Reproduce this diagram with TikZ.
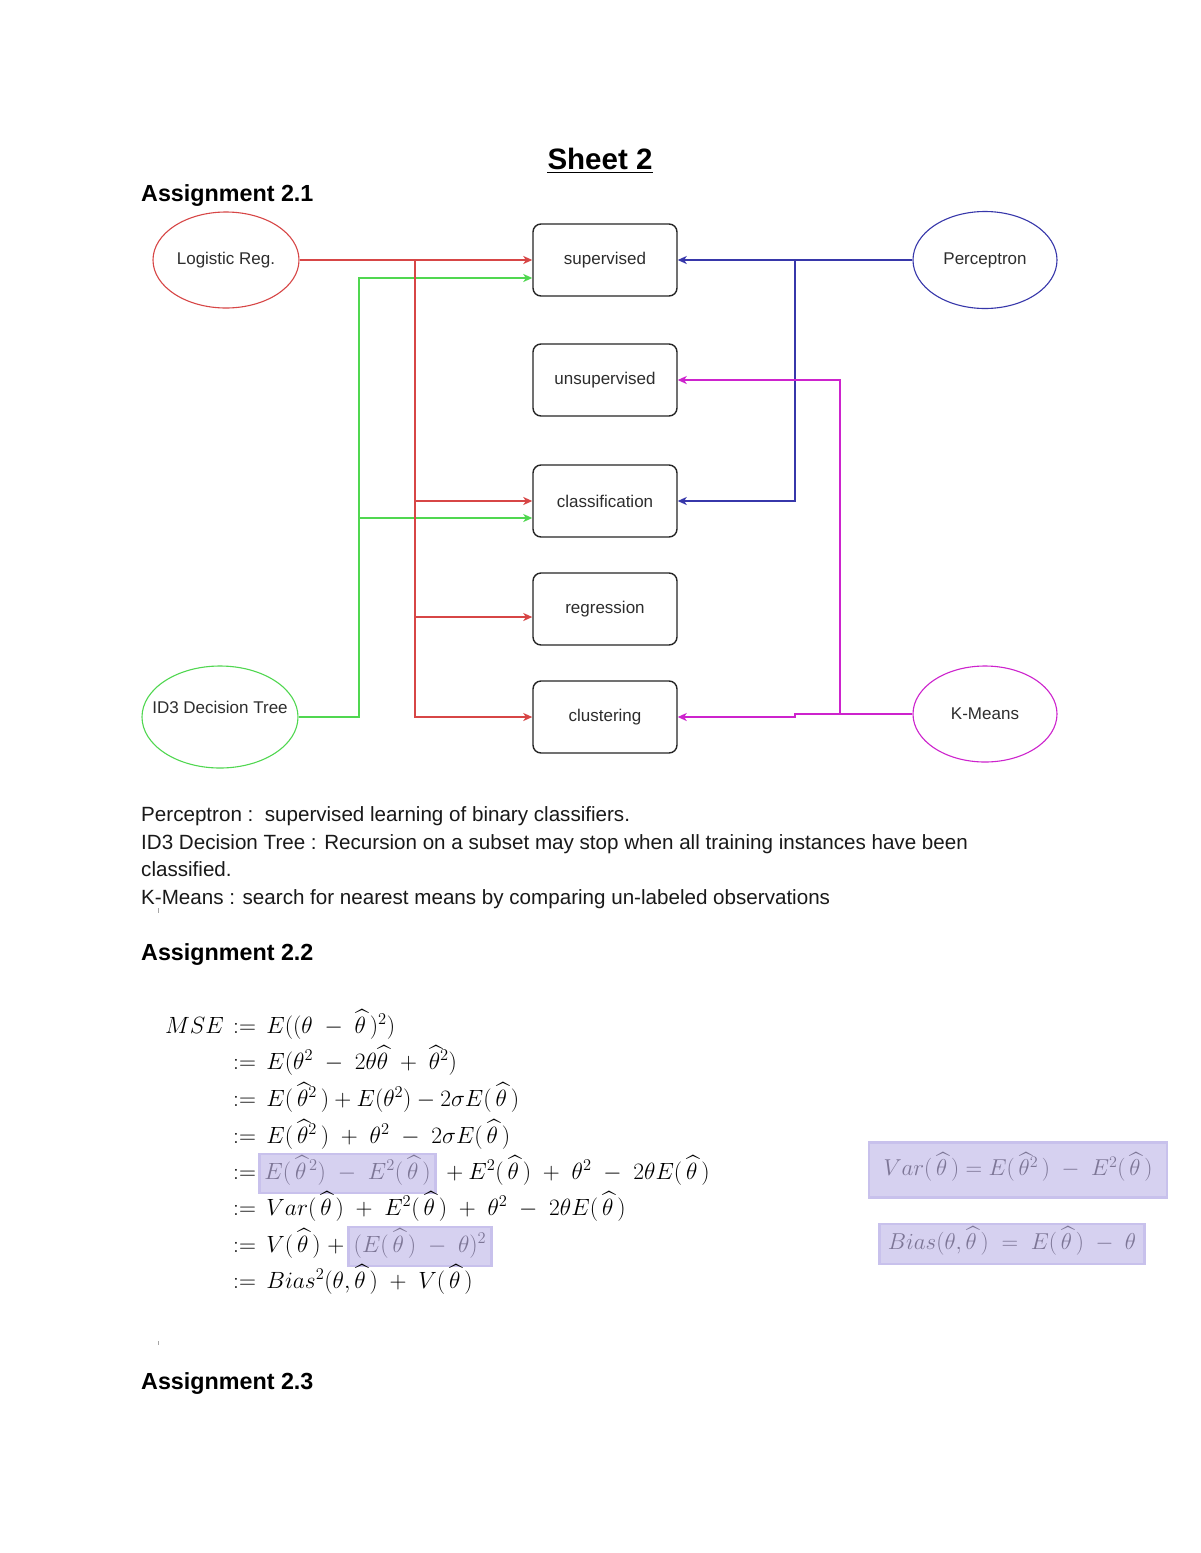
\RequirePackage{fix-cm}
\documentclass[tikz,border=0pt]{standalone}
\usepackage{amsmath}
\usepackage{fontspec}
\setmainfont{Liberation Sans}
\usetikzlibrary{shapes.geometric,arrows.meta}
\definecolor{cred}{RGB}{215,70,70}
\definecolor{cgreen}{RGB}{80,215,80}
\definecolor{cblue}{RGB}{55,55,170}
\definecolor{cmag}{RGB}{205,35,205}
\definecolor{lav}{RGB}{214,209,240}
\definecolor{lavb}{RGB}{200,193,236}
\definecolor{hltext}{RGB}{125,118,150}
\definecolor{dtext}{RGB}{45,45,45}
\tikzset{
 catbox/.style={draw=black!85, line width=1.4pt, rounded corners=8pt, minimum width=144pt, minimum height=72pt, inner sep=0pt, font=\fontsize{17}{20}\selectfont, text=dtext},
 algo/.style={ellipse, line width=1.1pt, inner sep=0pt},
 lbl/.style={font=\fontsize{17}{20}\selectfont, text=dtext, inner sep=0pt},
 conn/.style={line width=1.4pt},
 arr/.style={conn, -{Stealth[length=9pt,width=8pt,inset=2.5pt]}},
 head/.style={font=\fontsize{23.3}{28}\selectfont\bfseries, anchor=base west, inner sep=0pt},
 body/.style={font=\fontsize{20.6}{25}\selectfont, anchor=base west, inner sep=0pt, text=black!90},
 mth/.style={font=\fontsize{23.5}{28}\selectfont, anchor=base west, inner sep=0pt},
 hl/.style={fill=lav, draw=lavb, line width=2.5pt, text=hltext, font=\fontsize{23.5}{28}\selectfont, inner xsep=5pt, inner ysep=8pt, text height=17pt, text depth=6pt},
}
\begin{document}
\begin{tikzpicture}[x=1pt,y=-1pt]
\useasboundingbox (0,0) rectangle (1200,1553);
\fill[white] (0,0) rectangle (1200,1553);

% title and headings
\node[font=\fontsize{29.5}{34}\selectfont\bfseries, anchor=base, inner sep=0pt] (title) at (600,169) {Sheet 2};
\draw[line width=1.8pt] ([yshift=-3.5pt]title.base west) -- ([yshift=-3.5pt]title.base east);
\node[head] (a21) at (141,201) {Assignment 2.1};

% algorithm ellipses
\node[algo, draw=cred, minimum width=146pt, minimum height=96pt] (lr) at (226,260) {};
\node[lbl] at (lr) {Logistic Reg.};
\node[algo, draw=cblue, minimum width=144pt, minimum height=97pt] (pc) at (985,260) {};
\node[lbl] at (pc) {Perceptron};
\node[algo, draw=cgreen, minimum width=156pt, minimum height=102pt] (id3) at (220,717) {};
\node[lbl] at ([yshift=10pt]id3.center) {ID3 Decision Tree};
\node[algo, draw=cmag, minimum width=144pt, minimum height=96pt] (km) at (985,714) {};
\node[lbl] at (km) {K-Means};

% category boxes
\node[catbox] (sup) at (605,260) {supervised};
\node[catbox] (uns) at (605,380) {unsupervised};
\node[catbox] (cls) at (605,501) {classification};
\node[catbox] (reg) at (605,609) {regression};
\node[catbox] (clu) at (605,717) {clustering};

% green connectors
\coordinate (gj) at (359,717);
\draw[arr, cgreen] (id3.east) -- (gj) |- ([yshift=-18pt]sup.west);
\draw[arr, cgreen] (gj) |- ([yshift=-17pt]cls.west);

% red connectors
\coordinate (rj) at (415,260);
\draw[arr, cred] (lr.east) -- (sup.west);
\draw[arr, cred] (rj) |- (cls.west);
\draw[arr, cred] (rj) |- ([yshift=-8pt]reg.west);
\draw[arr, cred] (rj) |- (clu.west);

% blue connectors
\coordinate (bj) at (795,260);
\draw[arr, cblue] (pc.west) -- (sup.east);
\draw[arr, cblue] (bj) |- (cls.east);

% magenta connectors
\coordinate (mj) at (840,714);
\coordinate (mk) at (795,714);
\draw[arr, cmag] (km.west) -- (mj) |- (uns.east);
\draw[arr, cmag] (km.west) -- (mk) -- (mk |- clu.east) -- (clu.east);

% descriptions
\node[body] (t1) at (141,821) {Perceptron :\ \ supervised learning of binary classifiers.};
\node[body] (t2) at (141,849) {ID3 Decision Tree : Recursion on a subset may stop when all training instances have been};
\node[body] (t3) at (141,876) {classified.};
\node[body] (t4) at (141,904) {K-Means : search for nearest means by comparing un-labeled observations};
\draw[gray!70, line width=0.8pt] (158,908) -- (158,913);

\node[head] (a22) at (141,960) {Assignment 2.2};

% math derivation
\node[mth] (mse) at (165,1033) {$MSE$};
\node[mth] (m1) at (233,1033) {$:=\, E((\theta \;-\; \widehat{\theta}\,)^2)$};
\node[mth] (m2) at (233,1069) {$:=\, E(\theta^2 \;-\; 2\theta\widehat{\theta} \;+\; \widehat{\theta}^2)$};
\node[mth] (m3) at (233,1106) {$:=\, E(\,\widehat{\theta}^2\,) + E(\theta^2) - 2\sigma E(\,\widehat{\theta}\,)$};
\node[mth] (m4) at (233,1143) {$:=\, E(\,\widehat{\theta}^2\,) \;+\; \theta^2 \;-\; 2\sigma E(\,\widehat{\theta}\,)$};
\node[mth] (m5a) at (233,1179) {$:=$};
\node[hl, anchor=base west] (h1) at ([xshift=2pt]m5a.base east) {$E(\,\widehat{\theta}^{\,2}) \;-\; E^2(\,\widehat{\theta}\,)$};
\node[mth] (m5b) at ([xshift=4pt]h1.base east) {${}+ E^2(\,\widehat{\theta}\,) \;+\; \theta^2 \;-\; 2\theta E(\,\widehat{\theta}\,)$};
\node[mth] (m6) at (233,1215) {$:=\, Var(\,\widehat{\theta}\,) \;+\; E^2(\,\widehat{\theta}\,) \;+\; \theta^2 \;-\; 2\theta E(\,\widehat{\theta}\,)$};
\node[mth] (m7a) at (233,1252) {$:=\, V(\,\widehat{\theta}\,) \;+$};
\node[hl, anchor=base west] (h2) at ([xshift=3pt]m7a.base east) {$(E(\,\widehat{\theta}\,) \;-\; \theta)^2$};
\node[mth] (m8) at (233,1288) {$:=\, Bias^2(\theta,\widehat{\theta}\,) \;+\; V(\,\widehat{\theta}\,)$};

% side definitions
\node[hl, font=\fontsize{23}{27}\selectfont, minimum width=298pt, minimum height=55pt] (vb) at (1018,1170) {$Var(\,\widehat{\theta}\,) = E(\,\widehat{\theta}^2\,) \;-\; E^2(\,\widehat{\theta}\,)$};
\node[hl, font=\fontsize{23}{27}\selectfont, minimum width=265pt, minimum height=40pt] (bb) at (1012,1244) {$Bias(\theta,\widehat{\theta}\,) \;=\; E(\,\widehat{\theta}\,) \;-\; \theta$};

\draw[gray!70, line width=0.8pt] (158,1341) -- (158,1345);
\node[head] (a23) at (141,1389) {Assignment 2.3};
\end{tikzpicture}
\end{document}
